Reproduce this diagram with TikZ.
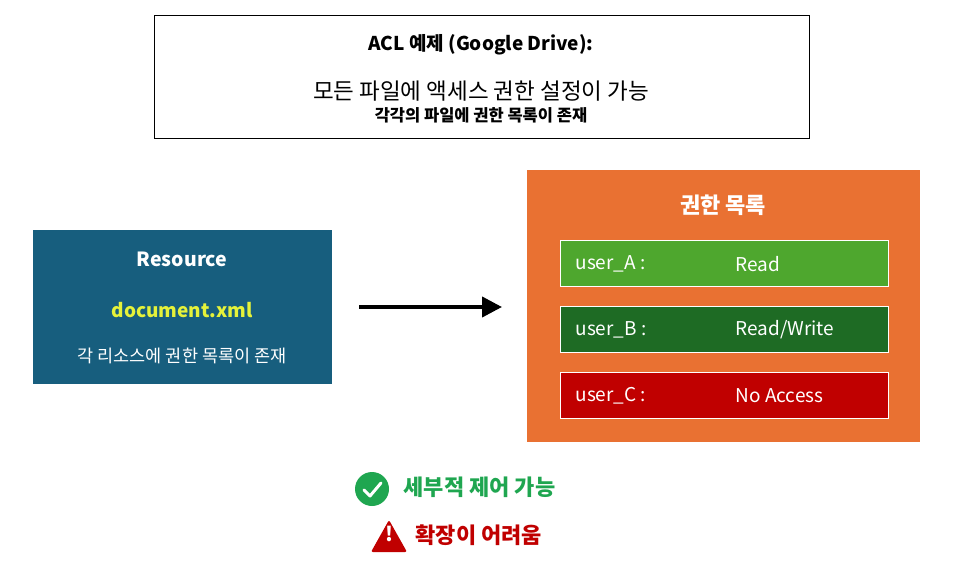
\documentclass[tikz,border=0pt]{standalone}
\usepackage{fontspec}
\usetikzlibrary{arrows.meta}
\setmainfont{Noto Sans CJK KR}
\definecolor{teal1}{HTML}{175E7E}
\definecolor{org}{HTML}{E97132}
\definecolor{g1}{HTML}{4EA72E}
\definecolor{g2}{HTML}{1E6B24}
\definecolor{r1}{HTML}{C00000}
\definecolor{okg}{HTML}{1FA650}
\definecolor{ylw}{HTML}{E5F23A}
\begin{document}
\begin{tikzpicture}[x=1pt,y=-1pt,
  row/.style={draw=white,line width=1.2pt,minimum width=328pt,minimum height=46pt,anchor=north west},
  wt/.style={text=white,font=\fontsize{19}{20}\selectfont,anchor=west}]
\useasboundingbox (0,0) rectangle (955,572);
\node[draw,line width=1.2pt,minimum width=655pt,minimum height=123pt,anchor=north west] (top) at (154,15) {};
\node[font=\bfseries\fontsize{19}{20}\selectfont] (t1) at (481,45) {ACL 예제 (Google Drive):};
\node[font=\fontsize{22.5}{24}\selectfont] (t2) at (481,91) {모든 파일에 액세스 권한 설정이 가능};
\node[font=\bfseries\fontsize{16.5}{18}\selectfont] (t3) at (481,115) {각각의 파일에 권한 목록이 존재};
\node[fill=teal1,minimum width=299pt,minimum height=154pt,anchor=north west] (res) at (33,230) {};
\node[text=white,font=\bfseries\fontsize{19.5}{20}\selectfont] (r1t) at (182,259) {Resource};
\node[text=ylw,font=\bfseries\fontsize{19}{20}\selectfont] (r2t) at (182,310) {document.xml};
\node[text=white,font=\fontsize{17.5}{18}\selectfont] (r3t) at (182,356) {각 리소스에 권한 목록이 존재};
\node[fill=org,minimum width=393pt,minimum height=272pt,anchor=north west] (acl) at (527,170) {};
\coordinate (a0) at (359,307);
\coordinate (a1) at (502,307);
\draw[line width=4pt,-{Triangle[length=20pt,width=20pt]}] (a0) -- (a1);
\node[text=white,font=\bfseries\fontsize{22}{24}\selectfont] (at) at (723,205) {권한 목록};
\node[row,fill=g1] (ra) at (560,240) {};
\node[row,fill=g2] (rb) at (560,306) {};
\node[row,fill=r1] (rc) at (560,372) {};
\foreach \n/\u/\p in {ra/user\_A :/Read, rb/user\_B :/Read\slash Write, rc/user\_C :/No Access}{
  \node[wt] at ([xshift=12pt]\n.west) {\u};
  \node[wt] at ([xshift=172pt]\n.west) {\p};
}
\node[circle,fill=okg,minimum size=34pt,inner sep=0] (ok) at (372,489) {};
\draw[white,line width=3pt,line cap=round,line join=round] ([shift={(-8,1)}]ok.center) -- ([shift={(-2,7)}]ok.center) -- ([shift={(9,-6)}]ok.center);
\node[text=okg,font=\bfseries\fontsize{22}{24}\selectfont,anchor=west] (okt) at (400,487) {세부적 제어 가능};
\coordinate (w) at (389,537);
\fill[r1,rounded corners=2pt] ([shift={(0,-17)}]w) -- ([shift={(18,15)}]w) -- ([shift={(-18,15)}]w) -- cycle;
\node[text=white,font=\bfseries\fontsize{20}{20}\selectfont] (wx) at ([yshift=3]w) {!};
\node[text=r1,font=\bfseries\fontsize{22}{24}\selectfont,anchor=west] (wt) at (412,535) {확장이 어려움};
\end{tikzpicture}
\end{document}
